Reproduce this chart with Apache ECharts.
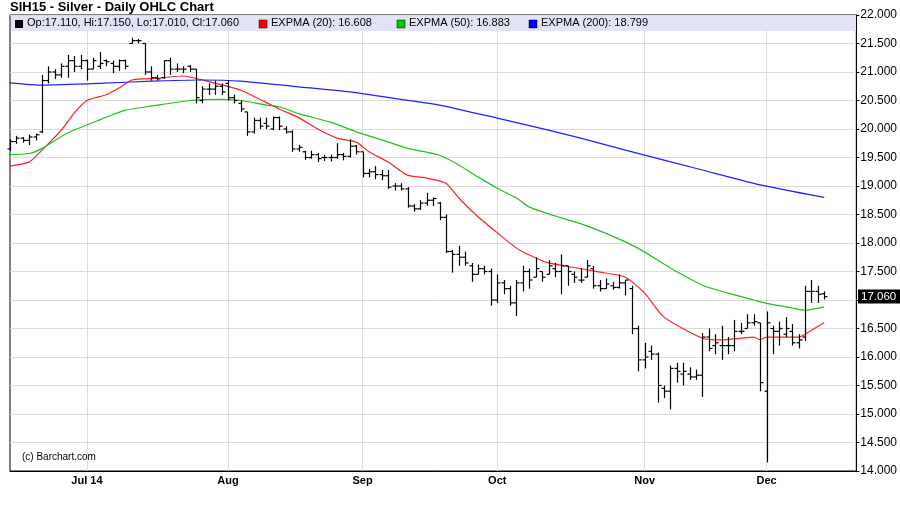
<!DOCTYPE html>
<html>
<head>
<meta charset="utf-8">
<script src="https://cdn.jsdelivr.net/npm/echarts@6/dist/echarts.min.js"></script>
<style>html,body{margin:0;padding:0;background:#fff}#chart{width:900px;height:511px}</style>
</head>
<body>
<div id="chart"></div>
<script>
// OHLC bars, one per trading day from Jun 13 2014 to Dec 12 2014: [open, high, low, close]
var ohlc = [
[19.65,19.82,19.62,19.78],[19.78,19.88,19.74,19.84],[19.84,19.86,19.76,19.80],[19.80,19.90,19.72,19.86],[19.86,19.92,19.80,19.90],
[19.95,20.95,19.93,20.85],[20.85,21.10,20.80,21.00],[21.00,21.05,20.88,20.95],[20.95,21.15,20.90,21.10],[21.10,21.30,20.90,21.20],
[21.20,21.28,21.00,21.10],[21.10,21.30,21.05,21.20],[21.20,21.22,20.85,21.05],[21.05,21.25,21.05,21.20],[21.10,21.35,21.05,21.15],
[21.20,21.22,21.10,21.18],[21.15,21.20,20.98,21.10],[21.10,21.22,21.02,21.20],[21.20,21.22,21.05,21.10],[21.50,21.60,21.50,21.55],
[21.55,21.58,21.50,21.55],[21.50,21.50,20.95,21.00],[21.00,21.10,20.85,20.90],[20.90,20.95,20.85,20.88],[20.90,21.20,20.88,21.20],
[21.20,21.25,20.95,21.05],[21.05,21.15,21.00,21.05],[21.05,21.10,20.98,21.05],[21.10,21.12,21.00,21.05],[21.05,21.05,20.45,20.55],
[20.50,20.75,20.45,20.70],[20.70,20.80,20.60,20.70],[20.70,20.85,20.60,20.75],[20.75,20.80,20.60,20.65],[20.80,20.85,20.50,20.55],
[20.55,20.60,20.45,20.50],[20.45,20.50,20.30,20.35],[20.30,20.30,19.88,19.95],[19.95,20.20,19.92,20.15],[20.15,20.20,20.00,20.05],
[20.10,20.20,20.00,20.05],[20.00,20.22,19.98,20.20],[20.20,20.22,19.98,20.05],[20.00,20.05,19.92,19.95],[19.95,19.98,19.60,19.65],
[19.65,19.72,19.60,19.68],[19.60,19.62,19.46,19.50],[19.50,19.62,19.48,19.55],[19.55,19.58,19.42,19.48],[19.50,19.55,19.44,19.50],
[19.50,19.55,19.43,19.50],[19.50,19.75,19.48,19.55],[19.55,19.58,19.45,19.52],[19.52,19.82,19.50,19.70],[19.70,19.72,19.55,19.60],
[19.60,19.60,19.15,19.22],[19.22,19.30,19.15,19.25],[19.25,19.35,19.12,19.20],[19.20,19.28,19.10,19.18],[19.18,19.28,18.95,18.98],
[19.00,19.05,18.92,19.00],[19.00,19.05,18.92,18.95],[18.95,18.98,18.62,18.65],[18.65,18.68,18.55,18.60],[18.60,18.75,18.58,18.70],
[18.70,18.88,18.65,18.75],[18.75,18.80,18.65,18.78],[18.70,18.72,18.40,18.45],[18.45,18.50,17.82,17.85],[17.85,17.88,17.48,17.80],
[17.80,17.95,17.60,17.75],[17.75,17.85,17.60,17.65],[17.60,17.65,17.32,17.45],[17.45,17.62,17.45,17.55],[17.55,17.60,17.45,17.50],
[17.50,17.55,16.90,17.00],[17.00,17.45,16.95,17.30],[17.30,17.35,17.10,17.20],[17.20,17.25,16.90,16.95],[16.95,17.35,16.72,17.30],
[17.30,17.60,17.15,17.50],[17.50,17.55,17.20,17.35],[17.40,17.75,17.40,17.55],[17.50,17.50,17.32,17.40],[17.45,17.70,17.45,17.60],
[17.55,17.65,17.40,17.50],[17.50,17.80,17.10,17.60],[17.60,17.60,17.25,17.50],[17.45,17.50,17.30,17.40],[17.35,17.55,17.30,17.35],
[17.40,17.70,17.40,17.60],[17.55,17.60,17.20,17.25],[17.25,17.35,17.15,17.20],[17.20,17.38,17.20,17.28],[17.25,17.32,17.18,17.22],
[17.22,17.45,17.20,17.30],[17.30,17.35,17.08,17.35],[17.20,17.25,16.40,16.50],[16.50,16.55,15.75,15.95],[15.95,16.25,15.80,16.00],
[16.10,16.20,15.95,16.05],[16.05,16.08,15.20,15.50],[15.45,15.50,15.28,15.40],[15.40,15.85,15.08,15.80],[15.80,15.90,15.55,15.75],
[15.70,15.90,15.50,15.75],[15.70,15.82,15.60,15.65],[15.65,15.78,15.60,15.68],[15.68,16.42,15.30,16.35],[16.35,16.50,16.10,16.15],
[16.20,16.40,16.05,16.25],[16.20,16.55,15.95,16.20],[16.20,16.35,16.05,16.20],[16.20,16.65,16.10,16.45],[16.45,16.60,16.40,16.45],
[16.50,16.75,16.50,16.60],[16.60,16.75,16.55,16.62],[16.60,16.60,15.40,15.55],[15.40,16.80,14.15,16.60],[16.50,16.55,16.05,16.45],
[16.45,16.62,16.20,16.50],[16.40,16.70,16.35,16.50],[16.45,16.58,16.20,16.25],[16.25,16.40,16.15,16.30],[16.35,17.25,16.28,17.15],
[17.15,17.35,16.95,17.15],[17.15,17.25,16.95,17.10],[17.11,17.15,17.01,17.06]
];
// EXPMA lines: [bar index, value]
var ema20 = [[0,19.35],[3,19.42],[5,19.63],[8,19.98],[10,20.28],[12,20.5],[15,20.6],[17,20.72],[19,20.86],[23,20.89],[27,20.93],[30,20.86],[36,20.68],[42,20.35],[45,20.2],[48,20.0],[51,19.84],[54,19.77],[56,19.6],[59,19.42],[62,19.19],[65,19.14],[68,19.05],[70,18.79],[73,18.46],[76,18.18],[79,17.91],[81,17.79],[84,17.65],[88,17.57],[92,17.49],[96,17.4],[99,17.12],[102,16.7],[108,16.33],[111,16.3],[114,16.33],[116,16.35],[117,16.3],[118,16.35],[123,16.35],[125,16.47],[127,16.6]];
var ema50 = [[0,19.55],[3,19.57],[5,19.66],[9,19.93],[14,20.16],[18,20.33],[22,20.4],[28,20.5],[33,20.52],[36,20.5],[40,20.42],[42,20.39],[45,20.27],[50,20.12],[54,19.95],[58,19.81],[62,19.66],[67,19.54],[70,19.37],[73,19.16],[76,18.96],[79,18.79],[81,18.63],[86,18.44],[90,18.3],[96,18.02],[99,17.84],[103,17.56],[108,17.26],[112,17.12],[116,17.0],[118,16.94],[122,16.86],[124,16.82],[127,16.88]];
var ema200 = [[0,20.81],[5,20.77],[14,20.8],[22,20.84],[30,20.86],[36,20.84],[45,20.74],[53,20.65],[61,20.52],[67,20.42],[76,20.19],[84,19.98],[89,19.84],[96,19.63],[108,19.28],[117,19.02],[127,18.8]];
var monthNames = ['Jan','Feb','Mar','Apr','May','Jun','Jul','Aug','Sep','Oct','Nov','Dec'];
var holidays = ['2014-7-4','2014-9-1','2014-11-27'];

// trading days as categories, plus a few empty slots at the right edge
var dates = [];
var monthStart = {};
var d = new Date(2014, 5, 13);
var lastMonth = 5;
while (dates.length < 128) {
    var key = d.getFullYear() + '-' + (d.getMonth() + 1) + '-' + d.getDate();
    if (d.getDay() != 0 && d.getDay() != 6 && holidays.indexOf(key) < 0) {
        if (d.getMonth() != lastMonth) {
            monthStart[dates.length] = d.getMonth() == 6 ? 'Jul 14' : monthNames[d.getMonth()];
            lastMonth = d.getMonth();
        }
        dates.push(key);
    }
    d.setDate(d.getDate() + 1);
}
for (var k = 0; k < 5; k++) dates.push('');

var chart = echarts.init(document.getElementById('chart'));
var font = 'Arial, "Liberation Sans", sans-serif';

var option = {
    animation: false,
    backgroundColor: '#fff',
    textStyle: {fontFamily: font},
    grid: {left: 10, right: 43, top: 15, bottom: 40, show: true, borderColor: '#000', borderWidth: 1},
    xAxis: {
        type: 'category',
        data: dates,
        boundaryGap: false,
        axisLine: {lineStyle: {color: '#000'}},
        axisTick: {show: false},
        axisLabel: {
            interval: function(i) { return monthStart[i] !== undefined; },
            formatter: function(v, i) { return monthStart[i] || ''; },
            color: '#000', fontSize: 11, fontWeight: 'bold', margin: 4
        },
        splitLine: {show: true, interval: function(i) { return monthStart[i] !== undefined; }, lineStyle: {color: '#dcdcdc'}}
    },
    yAxis: {
        type: 'value',
        position: 'right',
        min: 14, max: 22, interval: 0.5,
        axisLine: {show: true, lineStyle: {color: '#000'}},
        axisTick: {show: true, length: 3, lineStyle: {color: '#000'}},
        axisLabel: {color: '#000', fontSize: 12, margin: 4, formatter: function(v) { return v.toFixed(3); }},
        splitLine: {lineStyle: {color: '#dcdcdc'}}
    },
    series: [
        {
            type: 'custom',
            data: ohlc.map(function(r, i) { return [i, r[0], r[1], r[2], r[3]]; }),
            encode: {x: 0, y: [1, 2, 3, 4]},
            renderItem: function(params, api) {
                var x = api.coord([api.value(0), 0])[0];
                var o = api.coord([0, api.value(1)])[1];
                var h = api.coord([0, api.value(2)])[1];
                var l = api.coord([0, api.value(3)])[1];
                var c = api.coord([0, api.value(4)])[1];
                var st = {stroke: '#000', lineWidth: 1.2};
                x = Math.round(x) + 0.5;
                return {type: 'group', children: [
                    {type: 'line', shape: {x1: x, y1: h, x2: x, y2: l}, style: st},
                    {type: 'line', shape: {x1: x - 3, y1: o, x2: x, y2: o}, style: st},
                    {type: 'line', shape: {x1: x, y1: c, x2: x + 3, y2: c}, style: st}
                ]};
            },
            z: 3
        },
        {type: 'line', data: ema20, smooth: 0.2, showSymbol: false, lineStyle: {color: '#ff2020', width: 1.2}, z: 2},
        {type: 'line', data: ema50, smooth: 0.2, showSymbol: false, lineStyle: {color: '#20c020', width: 1.2}, z: 2},
        {type: 'line', data: ema200, smooth: 0.2, showSymbol: false, lineStyle: {color: '#2020ff', width: 1.2}, z: 2}
    ],
    graphic: [
        {type: 'text', left: 10, top: 1, style: {text: 'SIH15 - Silver - Daily OHLC Chart', font: 'bold 13px ' + font, fill: '#000'}},
        {type: 'rect', shape: {x: 11, y: 16, width: 845, height: 15}, style: {fill: '#e3e3f7'}, z: 10},
        {type: 'rect', shape: {x: 15, y: 20, width: 8, height: 8}, style: {fill: '#000'}, z: 11},
        {type: 'text', x: 27, y: 17, style: {text: 'Op:17.110, Hi:17.150, Lo:17.010, Cl:17.060', font: '11px ' + font, fill: '#000'}, z: 11},
        {type: 'rect', shape: {x: 259, y: 20, width: 8, height: 8}, style: {fill: '#ff0000', stroke: '#000', lineWidth: 0.5}, z: 11},
        {type: 'text', x: 271, y: 17, style: {text: 'EXPMA (20): 16.608', font: '11px ' + font, fill: '#000'}, z: 11},
        {type: 'rect', shape: {x: 397, y: 20, width: 8, height: 8}, style: {fill: '#00cc00', stroke: '#000', lineWidth: 0.5}, z: 11},
        {type: 'text', x: 409, y: 17, style: {text: 'EXPMA (50): 16.883', font: '11px ' + font, fill: '#000'}, z: 11},
        {type: 'rect', shape: {x: 529, y: 20, width: 8, height: 8}, style: {fill: '#0000ff', stroke: '#000', lineWidth: 0.5}, z: 11},
        {type: 'text', x: 541, y: 17, style: {text: 'EXPMA (200): 18.799', font: '11px ' + font, fill: '#000'}, z: 11},
        {type: 'text', x: 22, y: 452, style: {text: '(c) Barchart.com', font: '10px ' + font, fill: '#000'}, z: 11}
    ]
};
chart.setOption(option);

// last price tag on the price axis
var lastY = chart.convertToPixel({yAxisIndex: 0}, ohlc[ohlc.length - 1][3]);
chart.setOption({graphic: option.graphic.concat([
    {type: 'rect', shape: {x: 858, y: lastY - 7, width: 42, height: 14}, style: {fill: '#000'}, z: 12},
    {type: 'text', x: 861, y: lastY - 6, style: {text: '17.060', font: '11.5px ' + font, fill: '#fff'}, z: 13}
])});
</script>
</body>
</html>
